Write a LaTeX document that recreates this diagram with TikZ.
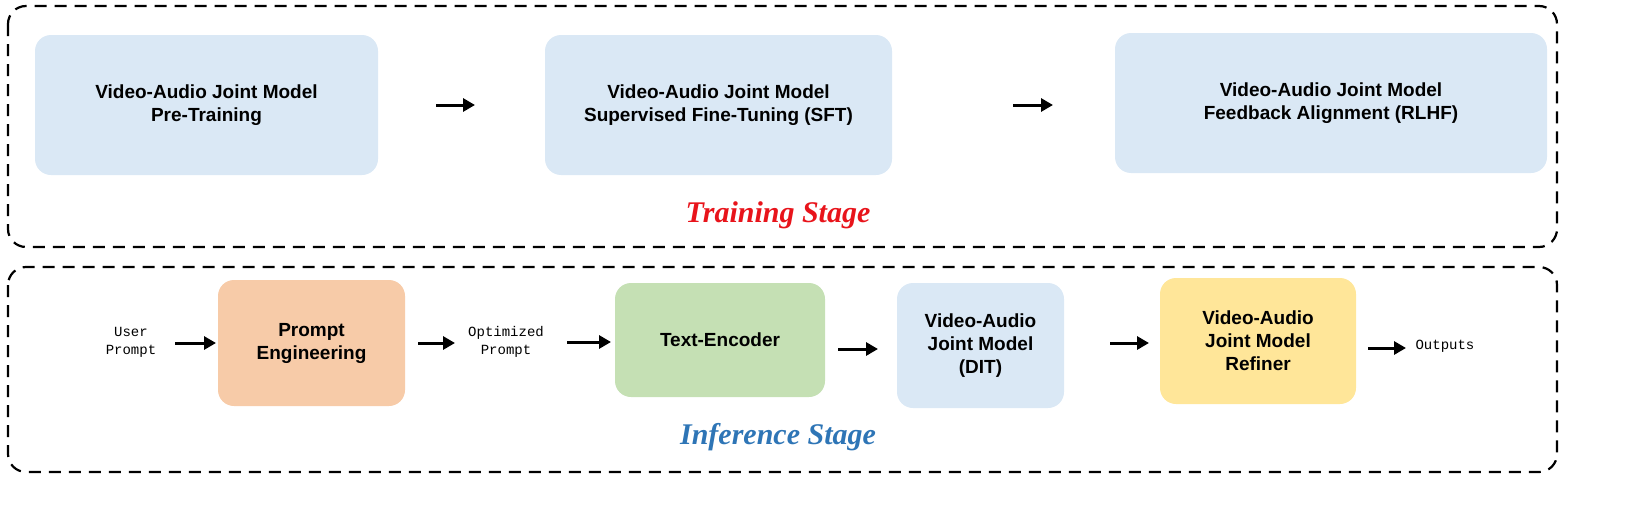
\documentclass[tikz,border=0pt]{standalone}
\usepackage{fontspec}
\setmainfont{Liberation Sans}
\newfontfamily\serifT{Liberation Serif}
\newfontfamily\monoT{Liberation Mono}
\usetikzlibrary{arrows.meta}
\definecolor{bl}{HTML}{DAE8F5}
\definecolor{or}{HTML}{F7CBA8}
\definecolor{gr}{HTML}{C5E0B4}
\definecolor{ye}{HTML}{FFE699}
\definecolor{tred}{HTML}{E8141B}
\definecolor{tblue}{HTML}{2E75B6}
\begin{document}
\begin{tikzpicture}[x=1pt,y=-1pt,
 frame/.style={draw,line width=2.2pt,dash pattern=on 12pt off 8pt,rounded corners=18pt},
 box/.style={draw=none,rounded corners=16pt,font=\fontsize{19}{23}\selectfont\bfseries,align=center},
 arr/.style={-{Triangle[length=12pt,width=13pt]},line width=3pt},
 lab/.style={font=\monoT\fontsize{14}{18}\selectfont,align=center},
 ttl/.style={font=\serifT\fontsize{30}{34}\selectfont\bfseries\itshape}]
\draw[frame] (8,6) rectangle (1557,247);
\draw[frame] (8,267) rectangle (1557,472);
\node[box,fill=bl,minimum width=343pt,minimum height=140pt] (t1) at (206.5,105) {Video-Audio Joint Model\\Pre-Training};
\node[box,fill=bl,minimum width=347pt,minimum height=140pt] (t2) at (718.5,105) {Video-Audio Joint Model\\Supervised Fine-Tuning (SFT)};
\node[box,fill=bl,minimum width=432pt,minimum height=140pt] (t3) at (1331,103) {Video-Audio Joint Model\\Feedback Alignment (RLHF)};
\coordinate (a1s) at (436,105); \coordinate (a1e) at (475,105);
\coordinate (a2s) at (1013,105); \coordinate (a2e) at (1053,105);
\draw[arr] (a1s) -- (a1e);
\draw[arr] (a2s) -- (a2e);
\node[ttl,text=tred] (tt) at (778,215) {Training Stage};
\node[lab] (up) at (131,342) {User\\Prompt};
\node[box,fill=or,minimum width=187pt,minimum height=126pt] (pe) at (311.5,343) {Prompt\\Engineering};
\node[lab] (op) at (506,342) {Optimized\\Prompt};
\node[box,fill=gr,minimum width=210pt,minimum height=114pt] (te) at (720,340) {Text-Encoder};
\node[box,fill=bl,minimum width=167pt,minimum height=125pt] (dit) at (980.5,345.5) {Video-Audio\\Joint Model\\(DIT)};
\node[box,fill=ye,minimum width=196pt,minimum height=126pt] (rf) at (1258,341) {Video-Audio\\Joint Model\\Refiner};
\node[lab,anchor=west] (out) at (1412,346) {Outputs};
\coordinate (b1s) at (175,343); \coordinate (b1e) at (216,343);
\coordinate (b2s) at (418,343); \coordinate (b2e) at (455,343);
\coordinate (b3s) at (567,342); \coordinate (b3e) at (611,342);
\coordinate (b4s) at (838,349); \coordinate (b4e) at (878,349);
\coordinate (b5s) at (1110,343); \coordinate (b5e) at (1149,343);
\coordinate (b6s) at (1368,348); \coordinate (b6e) at (1406,348);
\draw[arr] (b1s) -- (b1e);
\draw[arr] (b2s) -- (b2e);
\draw[arr] (b3s) -- (b3e);
\draw[arr] (b4s) -- (b4e);
\draw[arr] (b5s) -- (b5e);
\draw[arr] (b6s) -- (b6e);
\node[ttl,text=tblue] (it) at (778,437) {Inference Stage};
\pgfresetboundingbox
\path[use as bounding box] (0,0) rectangle (1640,506);
\end{tikzpicture}
\end{document}
